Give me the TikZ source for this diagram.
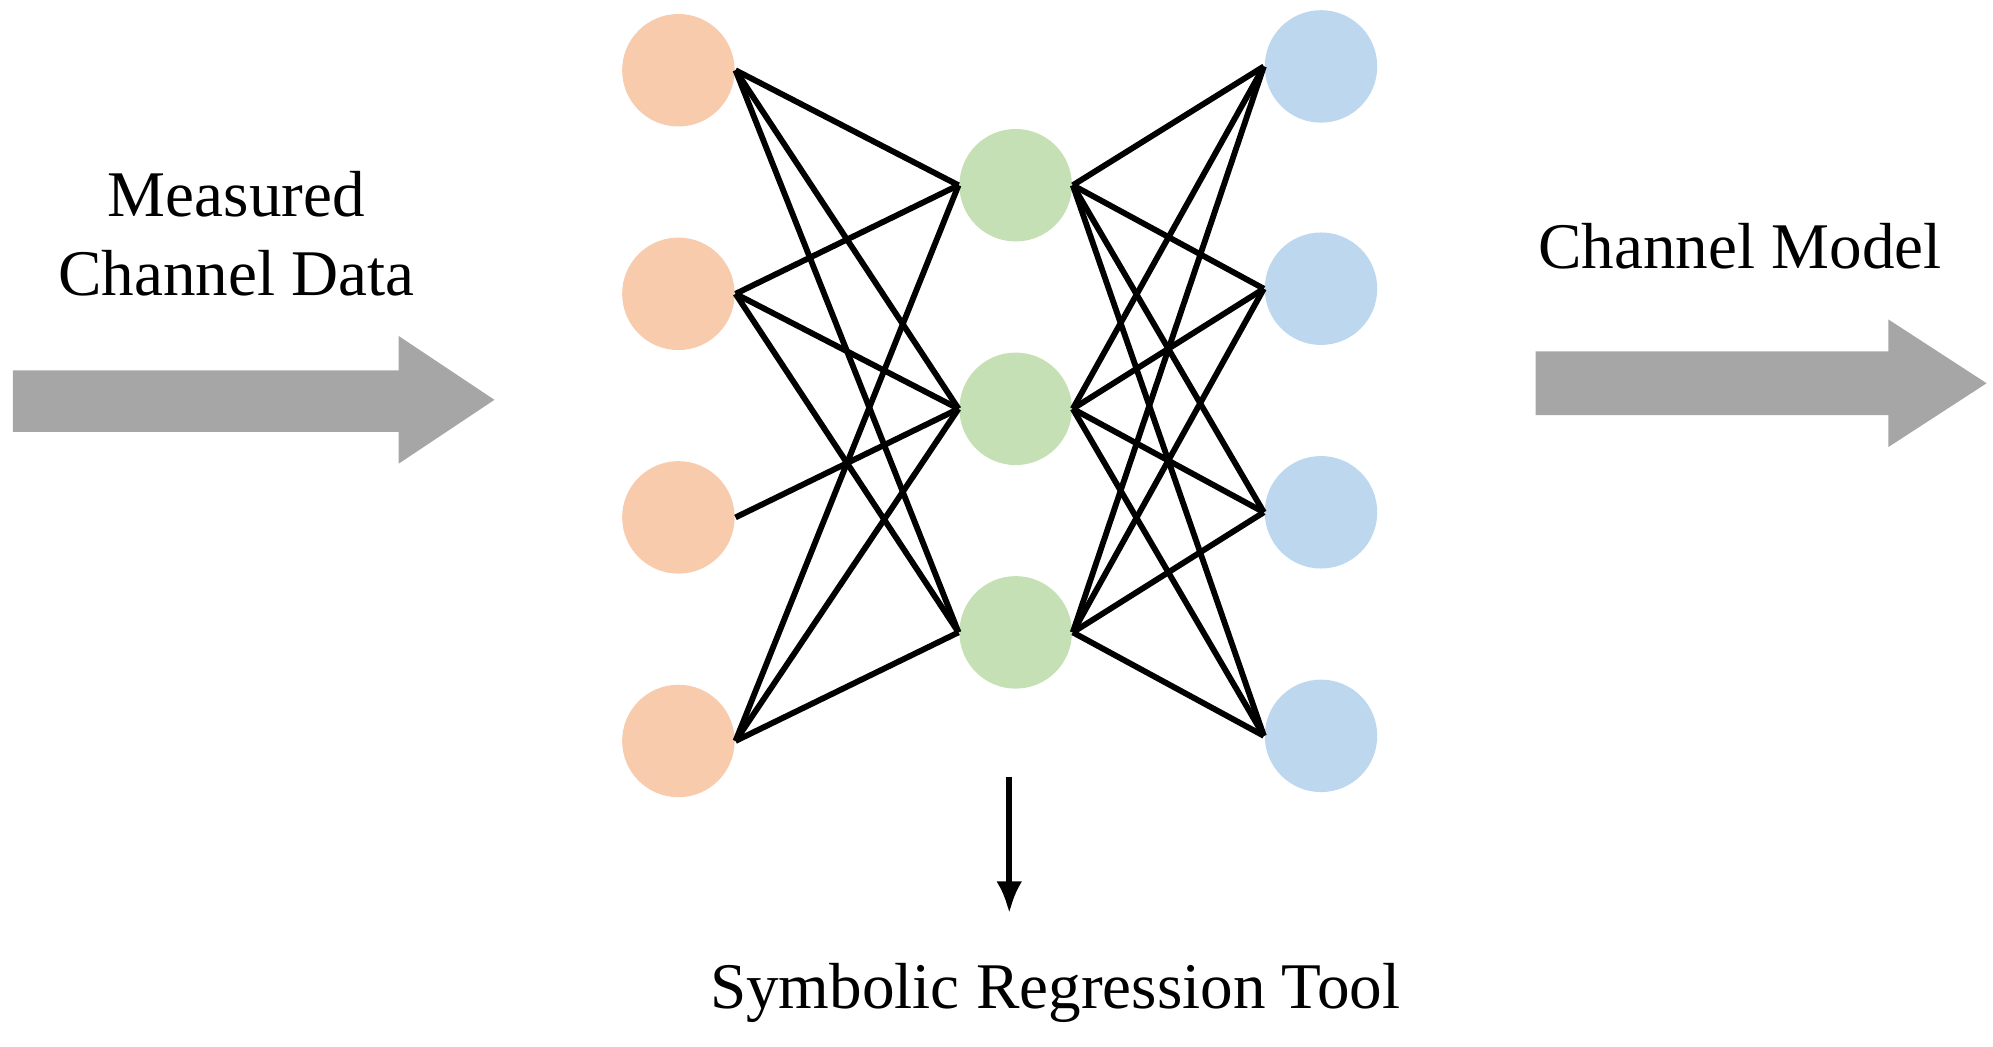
\documentclass[tikz,border=0pt]{standalone}
\usepackage{fontspec}
\setmainfont{Liberation Serif}
\usetikzlibrary{arrows.meta}
\begin{document}
\begin{tikzpicture}[x=0.01cm,y=-0.01cm,
  neu/.style={circle,minimum size=0.88cm,inner sep=0pt,draw=none},
  edge/.style={line width=1.3pt,black},
  big/.style={fill=black!35,draw=none},
  lbl/.style={font=\fontsize{14.5pt}{17.5pt}\selectfont,align=center}]
\definecolor{oc}{HTML}{F8CBAD}\definecolor{gc}{HTML}{C5E0B4}\definecolor{bc}{HTML}{BDD7EE}
\useasboundingbox (0,0) rectangle (1560,819.5);
\foreach \i/\y in {1/55,2/230,3/405,4/580}{\node[neu,fill=oc] (i\i) at (531,\y) {};}
\foreach \i/\y in {1/145,2/320,3/495}{\node[neu,fill=gc] (h\i) at (795,\y) {};}
\foreach \i/\y in {1/52,2/226,3/401,4/576}{\node[neu,fill=bc] (o\i) at (1034,\y) {};}
\foreach \i in {1,2,4}{\foreach \j in {1,2,3}{\draw[edge] (i\i.east) -- (h\j.west);}}
\draw[edge] (i3.east) -- (h2.west);
\foreach \j in {1,2,3}{\foreach \k in {1,2,3,4}{\draw[edge] (h\j.east) -- (o\k.west);}}
\fill[big] (10,290) -- (312,290) -- (312,263) -- (387,313) -- (312,363) -- (312,338) -- (10,338) -- cycle;
\fill[big] (1202,275) -- (1478,275) -- (1478,250) -- (1555,300) -- (1478,350) -- (1478,325) -- (1202,325) -- cycle;
\node[lbl] (t1) at (185,183) {Measured\\Channel Data};
\node[lbl] (t2) at (1362,193) {Channel Model};
\node[lbl] (t3) at (826,777) {Symbolic Regression Tool};
\coordinate (a1) at (790,608);
\coordinate (a2) at (790,715);
\draw[line width=1.3pt,-{Latex[length=0.25cm,width=0.2cm]}] (a1) -- (a2);
\end{tikzpicture}
\end{document}
